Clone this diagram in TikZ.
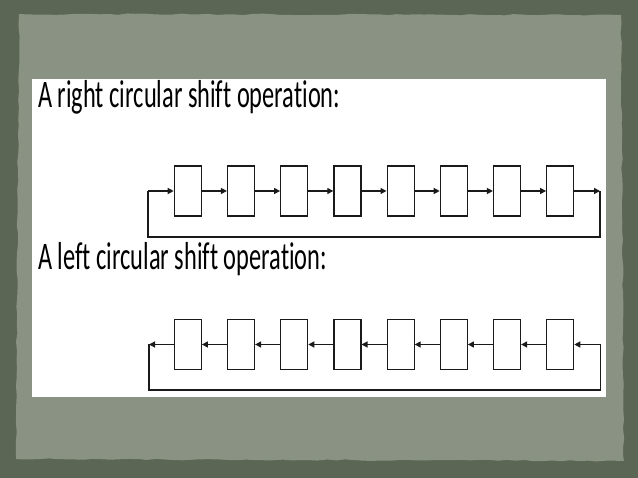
\documentclass[tikz,border=0pt]{standalone}
\usepackage{fontspec}
\setmainfont[Ligatures=NoCommon]{Carlito}
\usetikzlibrary{arrows.meta,decorations.pathmorphing,positioning}
\definecolor{slatebg}{HTML}{5C6654}
\definecolor{slatepanel}{HTML}{8A9383}
\definecolor{inkline}{HTML}{1A1A1A}

\begin{document}
\begin{tikzpicture}[x=1pt,y=-1pt,
            % Define the styles for cells, shifts and the loop back
            cell/.style={draw=inkline, line width=1.2pt, rectangle, fill=white,
              minimum width=27pt, minimum height=50pt, inner sep=0pt},
            shiftarrow/.style={-{Triangle[length=6pt,width=6pt]}, line width=1.3pt, draw=inkline},
            loopback/.style={line width=1.3pt, draw=inkline},
            caption/.style={anchor=base west, inner sep=0pt, text=black,
              font=\fontsize{39}{39}\selectfont},
            ]
        
            \useasboundingbox (0,0) rectangle (638,478);
        
            % Slide background
            \fill[slatebg] (0,0) rectangle (638,478);
            \fill[slatepanel, decorate, decoration={random steps, segment length=9pt, amplitude=0.8pt}]
                (19,14) -- (621,15) -- (624,461) -- (16,459) -- cycle;
            \fill[white] (32,79) rectangle (606,397);
        
            % Captions
            \node[caption] (title-R) at (38,108) {\scalebox{0.625}[1]{A right circular shift operation:}};
            \node[caption] (title-L) at (38,270) {\scalebox{0.625}[1]{A left circular shift operation:}};
        
            % Number of cells
            \def\nCells{8}
        
            % Right shift register
            \foreach \i in {1,...,\nCells}
                \node[cell] (R-\i) at ({187.8+53.2*(\i-1)},191) {};
            \coordinate (R-in) at (148,191);
            \coordinate (R-out) at (600,191);
            \coordinate (R-low) at (148,237);
        
            \draw[shiftarrow] (R-in) -- (R-1);
            \foreach \i [count=\j from 2] in {1,...,7}
                \draw[shiftarrow] (R-\i) -- (R-\j);
            \draw[shiftarrow] (R-\nCells) -- (R-out);
            \draw[loopback] (R-out) |- (R-low) -- (R-in);
        
            % Left shift register
            \foreach \i in {1,...,\nCells}
                \node[cell] (L-\i) at ({187.8+53.2*(\i-1)},344.5) {};
            \coordinate (L-out) at (149,344.5);
            \coordinate (L-in) at (600.5,344.5);
            \coordinate (L-low) at (149,390);
        
            \draw[shiftarrow] (L-in) -- (L-\nCells);
            \foreach \i [count=\j from 2] in {1,...,7}
                \draw[shiftarrow] (L-\j) -- (L-\i);
            \draw[shiftarrow] (L-1) -- (L-out);
            \draw[loopback] (L-out) -- (L-low) -| (L-in);
        
        \end{tikzpicture}
\end{document}
